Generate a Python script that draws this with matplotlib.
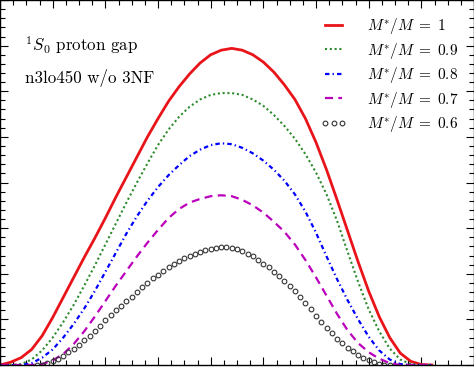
import numpy as np
import matplotlib
matplotlib.use("Agg")
import matplotlib.pyplot as plt
from matplotlib.ticker import MultipleLocator

plt.rcParams['mathtext.fontset'] = 'cm'
plt.rcParams['font.family'] = ['cmr10', 'DejaVu Serif']
plt.rcParams['axes.formatter.use_mathtext'] = True

# ---- data ----
x_line = [0.00, 0.02, 0.04, 0.06, 0.08, 0.10, 0.12, 0.14, 0.16, 0.18,
          0.20, 0.22, 0.24, 0.26, 0.28, 0.30, 0.32, 0.34, 0.36, 0.38,
          0.40, 0.42, 0.44, 0.46, 0.48, 0.50, 0.52, 0.54, 0.56, 0.58,
          0.60, 0.62, 0.64, 0.66, 0.68, 0.70, 0.72, 0.74, 0.76, 0.78,
          0.80, 0.82]
gap_10 = [0.00, 0.03, 0.08, 0.17, 0.32, 0.52, 0.74, 0.96, 1.18, 1.39,
          1.61, 1.84, 2.06, 2.28, 2.50, 2.70, 2.89, 3.05, 3.19, 3.31,
          3.40, 3.45, 3.47, 3.45, 3.40, 3.32, 3.21, 3.07, 2.91, 2.70,
          2.44, 2.14, 1.81, 1.47, 1.13, 0.81, 0.53, 0.30, 0.13, 0.04,
          0.005, 0.00]
gap_09 = [0.00, 0.00, 0.01, 0.06, 0.16, 0.30, 0.47, 0.66, 0.87, 1.09,
          1.32, 1.55, 1.78, 2.00, 2.21, 2.41, 2.58, 2.72, 2.83, 2.91,
          2.96, 2.98, 2.98, 2.96, 2.91, 2.84, 2.74, 2.62, 2.48, 2.31,
          2.11, 1.87, 1.58, 1.24, 0.91, 0.61, 0.37, 0.18, 0.06, 0.01,
          0.00, 0.00]
gap_08 = [0.00, 0.00, 0.00, 0.02, 0.08, 0.17, 0.30, 0.45, 0.62, 0.81,
          1.02, 1.23, 1.44, 1.63, 1.80, 1.95, 2.08, 2.19, 2.29, 2.36,
          2.41, 2.43, 2.42, 2.38, 2.32, 2.24, 2.14, 2.02, 1.87, 1.68,
          1.45, 1.19, 0.94, 0.71, 0.50, 0.31, 0.16, 0.06, 0.01, 0.00,
          0.00, 0.00]
gap_07 = [0.00, 0.00, 0.00, 0.00, 0.01, 0.05, 0.12, 0.23, 0.37, 0.53,
          0.70, 0.87, 1.03, 1.19, 1.34, 1.48, 1.61, 1.71, 1.78, 1.82,
          1.85, 1.86, 1.85, 1.81, 1.75, 1.67, 1.57, 1.46, 1.32, 1.15,
          0.96, 0.76, 0.56, 0.38, 0.24, 0.14, 0.07, 0.02, 0.00, 0.00,
          0.00, 0.00]

x_dots = [0.07, 0.08, 0.09, 0.10, 0.11, 0.12, 0.13, 0.14, 0.15, 0.16,
          0.17, 0.18, 0.19, 0.20, 0.21, 0.22, 0.23, 0.24, 0.25, 0.26,
          0.27, 0.28, 0.29, 0.30, 0.31, 0.32, 0.33, 0.34, 0.35, 0.36,
          0.37, 0.38, 0.39, 0.40, 0.41, 0.42, 0.43, 0.44, 0.45, 0.46,
          0.47, 0.48, 0.49, 0.50, 0.51, 0.52, 0.53, 0.54, 0.55, 0.56,
          0.57, 0.58, 0.59, 0.60, 0.61, 0.62, 0.63, 0.64, 0.65, 0.66,
          0.67, 0.68, 0.69, 0.70, 0.71, 0.72, 0.73, 0.74]
gap_06 = [0.00, 0.005, 0.02, 0.04, 0.07, 0.10, 0.14, 0.18, 0.22, 0.27,
          0.32, 0.37, 0.43, 0.49, 0.55, 0.60, 0.65, 0.70, 0.75, 0.80,
          0.85, 0.90, 0.95, 0.99, 1.03, 1.07, 1.11, 1.14, 1.17, 1.20,
          1.22, 1.24, 1.26, 1.27, 1.28, 1.29, 1.29, 1.28, 1.27, 1.25,
          1.22, 1.19, 1.15, 1.11, 1.07, 1.02, 0.97, 0.92, 0.87, 0.81,
          0.75, 0.68, 0.61, 0.54, 0.47, 0.41, 0.35, 0.29, 0.24, 0.19,
          0.15, 0.11, 0.08, 0.05, 0.03, 0.015, 0.005, 0.00]

labels = [r'$M^{*}/M\;=\;1$', r'$M^{*}/M\;=\;0.9$', r'$M^{*}/M\;=\;0.8$',
          r'$M^{*}/M\;=\;0.7$', r'$M^{*}/M\;=\;0.6$']

fig = plt.figure(figsize=(4.74, 3.69), dpi=100)
ax = fig.add_axes([0.0, 4/369, 1.0, 1 - 4/369])

ax.plot(x_line, gap_10, color='#e8141a', lw=2.0, ls='-', label=labels[0])
ax.plot(x_line, gap_09, color='#2e8b2e', lw=1.5, ls=(0, (1, 1.3)), label=labels[1])
ax.plot(x_line, gap_08, color='#0000ff', lw=1.6, ls=(0, (2, 1.4, 0.6, 1.4)), label=labels[2])
ax.plot(x_line, gap_07, color='#bb00bb', lw=1.6, ls=(0, (3.6, 2.4)), label=labels[3])
ax.plot(x_dots, gap_06, ls='none', marker='o', ms=3.4, mfc='none', mec='#333333',
        mew=0.8, label=labels[4])

ax.set_xlim(0, 0.9)
ax.set_ylim(0, 4.0)
ax.xaxis.set_major_locator(MultipleLocator(0.1))
ax.xaxis.set_minor_locator(MultipleLocator(0.025))
ax.yaxis.set_major_locator(MultipleLocator(0.5))
ax.yaxis.set_minor_locator(MultipleLocator(0.1))
ax.tick_params(which='both', direction='in', top=True, right=True,
               labelbottom=False, labelleft=False, width=0.8)
ax.tick_params(which='major', length=6)
ax.tick_params(which='minor', length=3.5)
for s in ax.spines.values():
    s.set_linewidth(1.0)

ax.text(0.053, 0.877, r'$^{1}S_{0}$ proton gap', transform=ax.transAxes,
        fontsize=12.2, va='center', ha='left')
ax.text(0.053, 0.786, 'n3lo450 w/o 3NF', transform=ax.transAxes,
        fontsize=12.2, va='center', ha='left')

leg = ax.legend(loc='upper right', frameon=False, fontsize=11,
                handlelength=1.7, handletextpad=1.3, labelspacing=0.3,
                numpoints=3, borderaxespad=0.65)

fig.savefig('out.png', dpi=100)
